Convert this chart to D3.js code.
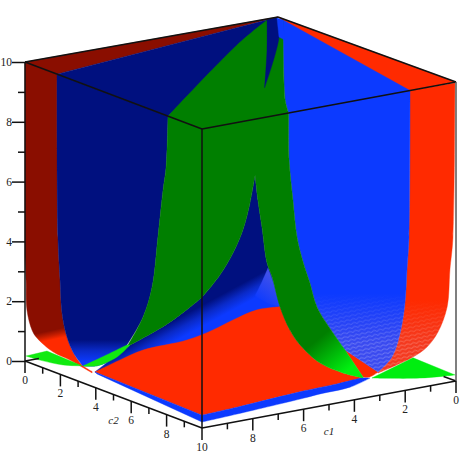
<!DOCTYPE html>
<html><head><meta charset="utf-8">
<script src="https://cdn.jsdelivr.net/npm/d3@7"></script>
<style>html,body{margin:0;padding:0;background:#fff}svg{display:block}</style></head>
<body><svg id="c" width="474" height="474"></svg>
<script>
// Every outline is a list of smooth runs of [c1, c2, z].
const tickValuesMajor=[0,2,4,6,8,10], tickValuesMinor=[1,3,5,7,9];
const redTopLeft=[[[10,0,10],[0,0,10]],[[0,0,10],[10,1.81,10]]];
const redTopRight=[[[0,0,10],[0,10,10]],[[0,10,10],[3,10,10]]];
const navyTop=[[[10,1.81,10],[0,0,10]],[[0,0,10],[10,8.08,10]]];
const redWallLeft=[
 [[10,0,10],[10,1.81,10]],
 [[10,1.81,10],[10,1.86,4.57],[10,1.98,3.15],[10,2.09,2.07],[10,2.37,1.33],[10,2.71,.91],[10,3.22,.59],[10,3.79,.5]],
 [[10,3.79,.45],[10,3.22,.52],[10,2.54,.60],[10,1.58,.66],[10,.68,.92],[10,.40,1.12],[10,.11,1.73],[10,.06,2.72],[10,0,3.5]]];
const navyWallLeft=[
 [[10,1.81,10],[10,8.08,10]],
 [[10,8.08,10],[10,7.97,8.27],[10,7.8,7.47],[10,7.51,5.83],[10,7.18,4.08],[10,6.67,2.97],[10,5.76,1.83]],
 [[10,5.76,1.83],[10,5.2,1.30],[10,4.07,.75],[10,3.28,.57]],
 [[10,3.22,.59],[10,2.71,.91],[10,2.37,1.33],[10,2.09,2.07],[10,1.98,3.15],[10,1.86,4.57],[10,1.81,10]]];
const navyCentre=[
 [[10,3.95,.52],[10,5.93,1.86]],
 [[10,5.93,1.86],[10,8.02,3.03],[10,9.32,3.89],[10,10,4.38],[9.29,10,5.01],[8.78,10,5.66],[8.39,10,6.37],[8.11,10,7.23],[7.91,10,8.13]],
 [[7.91,10,8.13],[7.8,10,7.28],[7.64,10,6.35],[7.44,10,5.12],[7.24,10,4.62],[6.93,10,3.57],[6.54,10,2.73]],
 [[6.54,10,2.73],[6.93,10,3.4],[7.83,10,3.4],[8.78,10,3.2],[10,9.15,2.5],[10,7.06,1.8],[10,5.37,1.1]]];
const periwinkleBand=[[[7.4,10,4.94],[7.17,10,4.34],[6.93,10,3.6]],[[6.93,10,3.6],[7.32,10,3.73],[7.91,10,4.09]],[[7.91,10,4.09],[7.64,10,4.51],[7.4,10,4.94]]];
const redFloor=[
 [[10,3.95,.52],[10,5.37,1.24],[10,6.67,1.86],[10,9.15,2.75],[9.57,10,3.21],[8.78,10,3.42],[7.83,10,3.61],[6.93,10,3.57]],
 [[6.93,10,3.57],[6.54,10,2.73],[6.14,10,2.17],[5.35,10,1.44],[4.45,10,.97],[3.66,10,.68]],
 [[3.66,10,.68],[4.69,10,.64],[5.98,10,.61],[8.62,10,.48],[10,10,.43]]];
const blueFloor=[
 [[10,3.95,.52],[10,10,.43]],
 [[10,10,.43],[8.62,10,.48],[5.98,10,.61],[4.69,10,.64],[3.66,10,.68],[3.39,10,.63]],
 [[3.39,10,.63],[4.17,10,.45],[5.35,10,.41],[5.98,10,.37],[8.62,10,.25],[10,10,.2]],
 [[10,10,.2],[10,4.07,.48]]];
const redSliver=[[[4.37,10,1.72],[3.07,10,.78]],[[3.07,10,.78],[3.39,10,.67],[3.66,10,.71]]];
const redWallRight=[
 [[1.81,10,10],[.04,10,9.97]],
 [[.04,10,9.97],[.12,10,4.83],[.24,10,3.75],[.35,10,2.53],[.71,10,1.75],[1.14,10,1.32],[1.69,10,1.07],[3.07,10,.75]],
 [[3.07,10,.78],[2.52,10,1.20],[2.2,10,1.95],[2.01,10,2.92],[1.93,10,4.02],[1.85,10,5.11],[1.81,10,10]]];
const greenRightEdge=[[3.66,10,.71],[4.37,10,1.72],[4.84,10,2.37],[5.47,10,3.33],[5.75,10,4.18],[6.02,10,4.93],[6.26,10,5.80],[6.42,10,7.06],[6.57,10,8.42],[6.59,10,10]];
const blueWallRight=[
 [[.085,.40,10],[1.81,10,10]],
 [[1.81,10,10],[1.85,10,5.11],[1.93,10,4.02],[2.01,10,2.92],[2.2,10,1.95],[2.52,10,1.20],[3.07,10,.78]],
 [[3.07,10,.78],[4.37,10,1.72]],
 greenRightEdge.slice(1),
 [[6.59,10,10],[5.83,8.73,10],[.085,.40,10]]];
const greenSheet=[
 [[.51,.11,10],[3.13,2.14,10],[10,8.08,10]],
 [[10,8.08,10],[10,7.97,8.27],[10,7.8,7.47],[10,7.51,5.83],[10,7.18,4.08],[10,6.67,2.97],[10,5.82,1.84]],
 [[10,5.93,1.86],[10,8.02,3.03],[10,9.32,3.89],[10,10,4.38],[9.29,10,5.01],[8.78,10,5.66],[8.39,10,6.37],[8.11,10,7.23],[7.91,10,8.13]],
 [[7.91,10,8.13],[7.8,10,7.28],[7.64,10,6.35],[7.44,10,5.12],[7.24,10,4.62],[6.93,10,3.57],[6.54,10,2.73],[6.14,10,2.17],[5.35,10,1.44],[4.45,10,.97],[3.66,10,.68]],
 greenRightEdge,
 [[6.59,10,10],[5.83,8.73,10],[.085,.40,10]]];
const wingLeft=[[[10,.06,.18],[10,1.24,.61]],[[10,1.24,.61],[10,3.22,.56]],[[10,3.22,.56],[10,2.15,.35],[10,.85,.22],[10,.06,.18]]];
const wingLens=[[[10,3.28,.57],[10,4.24,1.05],[10,5.76,1.83]],[[10,5.93,1.86],[10,5.2,1.30],[10,4.07,.75],[10,3.28,.57]]];
const wingRight=[[[3.31,10,.62],[1.69,10,1.04]],[[1.69,10,1.04],[.04,10,.21]],[[.04,10,.21],[1.42,10,.32],[3.31,10,.62]]];
const spikeNavy=[[[.51,.11,10],[.1,.085,10]],[[.1,.085,10],[1.43,2.09,10],[5.44,7.0,10]],[[5.44,7.0,10],[2.69,3.21,10],[.51,.11,10]]];
const spikeBlue=[[[.1,.085,10],[.085,.40,10]],[[.085,.40,10],[1.49,2.51,10]],[[1.49,2.51,10],[1.43,2.09,10]],[[1.43,2.09,10],[.1,.085,10]]];
// Colour ramps, anchored on two points of each surface.
const rampRedLeft={a:[10,2.15,1.59],b:[10,2.26,1.31],stops:["#8a0e00","#c01c00","#ff2a00"]};
const rampNavyLeft={a:[10,3.67,1.53],b:[10,3.67,.79],stops:["#00107f","#0a2ac8","#0c3aff"]};
const rampNavyCentre={a:[10,9.89,4.05],b:[9.72,10,3.47],stops:["#00107f","#0a2ac8","#0c3aff"]};
const rampPeriwinkle={a:[7.24,10,4.62],b:[7.91,10,4.0],stops:["#3f50ea","#0c3aff"]};
const rampBlueWall={a:[2.99,10,3.4],b:[2.99,10,1.7],stops:["#0c3aff","#3a4af0"]};
const rampRedWall={a:[1.02,10,2.87],b:[1.02,10,1.36],stops:["#ff2a00","#f43a20"]};
const rampGreen={a:[5.24,10,2.36],b:[4.17,10,1.09],stops:["#007f00","#00f010"]};

const c1X=d3.scaleLinear([0,10],[0,-253]), c2X=d3.scaleLinear([0,10],[0,178]);
const c1Y=d3.scaleLinear([0,10],[0,45]),  c2Y=d3.scaleLinear([0,10],[0,65]);
const skewX=d3.scaleLinear([0,100],[0,-1]), skewY=d3.scaleLinear([0,100],[0,2]);
const zY=d3.scaleLinear([0,10],[361,62]);
const ox=278, oy=-45;
const px=p=>ox+c1X(p[0])+c2X(p[1])+skewX(p[0]*p[1]);
const py=p=>oy+zY(p[2])+c1Y(p[0])+c2Y(p[1])+skewY(p[0]*p[1]);
const line=d3.line().x(px).y(py);
const smooth=d3.line().x(px).y(py).curve(d3.curveCatmullRom.alpha(.5));
const outline=runs=>runs.map((r,i)=>{const s=smooth(r);return i?"L"+s.slice(1):s;}).join("")+"Z";
const svg=d3.select("#c"), defs=svg.append("defs");

function ramp(id,r,stops){
  const g=defs.append("linearGradient").attr("id",id).attr("gradientUnits","userSpaceOnUse")
    .attr("x1",px(r.a)).attr("y1",py(r.a)).attr("x2",px(r.b)).attr("y2",py(r.b));
  const st=stops||r.stops;
  st.forEach((s,i)=>g.append("stop").attr("offset",i/(st.length-1)).attr("stop-color",s));
  return `url(#${id})`;
}
// facet chevrons that show on the lower curved walls
const pat=defs.append("pattern").attr("id","facets").attr("patternUnits","userSpaceOnUse").attr("width",6).attr("height",4).attr("patternTransform","rotate(-12)");
pat.append("path").attr("d","M0 2.5L3 .8L6 2.5").attr("fill","none").attr("stroke","#fff").attr("stroke-opacity",.28).attr("stroke-width",1);
function facetMask(id,r){
  const f=ramp(id+"g",r,["#000","#fff"]);
  defs.append("mask").attr("id",id).attr("maskUnits","userSpaceOnUse").attr("x",0).attr("y",0).attr("width",474).attr("height",474)
    .append("rect").attr("width",474).attr("height",474).attr("fill",f);
  return `url(#${id})`;
}
const paint=list=>svg.append("g").selectAll("path").data(list).join("path")
  .attr("d",d=>outline(d[0])).attr("fill",d=>d[1]).attr("stroke",d=>d[1]).attr("stroke-width",.4);
paint([
 [redTopLeft,"#8a0e00"],[redTopRight,"#ff2a00"],[navyTop,"#00107f"],
 [redWallLeft,ramp("g1",rampRedLeft)],[navyWallLeft,ramp("g2",rampNavyLeft)],
 [navyCentre,ramp("g3",rampNavyCentre)],[periwinkleBand,ramp("g7",rampPeriwinkle)],
 [redFloor,"#ff2a00"],[blueFloor,"#0c3aff"],[redSliver,"#ff2a00"],
 [redWallRight,ramp("g4",rampRedWall)],[blueWallRight,ramp("g5",rampBlueWall)]]);
const facetted=[[redWallRight,rampRedWall,"m1"],[blueWallRight,rampBlueWall,"m2"]];
svg.append("g").selectAll("path").data(facetted).join("path")
  .attr("d",d=>outline(d[0])).attr("fill","url(#facets)").attr("mask",d=>facetMask(d[2],d[1]));
paint([[greenSheet,ramp("g6",rampGreen)],[wingLeft,"#10ea10"],[wingLens,"#10ea10"],[wingRight,"#00ee10"],
 [spikeNavy,"#00107f"],[spikeBlue,"#0c3aff"]]);

// box edges
const edges=[
 [[10,0,10],[10,10,10]],[[10,10,10],[0,10,10]],[[10,0,10],[0,0,10]],[[0,0,10],[0,10,10]],
 [[10,10,10],[10,10,0]],[[10,0,10],[10,0,0]],
 [[10,0,0],[10,10,0]],[[10,10,0],[0,10,0]],[[10,0,0],[9.45,0,0]],[[0,10,0],[0,9.3,0]]];
const ink="#111", inkWidth=1.5;
svg.append("g").selectAll("path").data(edges).join("path").attr("d",d=>line(d)).attr("fill","none").attr("stroke",ink).attr("stroke-width",inkWidth);
svg.append("path").attr("d",line([[0,10,10],[0,10,0]])).attr("fill","none").attr("stroke","#555").attr("stroke-width",inkWidth);

const font='"Liberation Serif",serif';
// z axis
const zMaj=svg.append("g").attr("transform",`translate(${px([10,0,0])},0)`).call(d3.axisLeft(zY).tickValues(tickValuesMajor).tickSize(13).tickPadding(0).tickFormat(d3.format("d")));
const zMin=svg.append("g").attr("transform",`translate(${px([10,0,0])},0)`).call(d3.axisLeft(zY).tickValues(tickValuesMinor).tickSize(7).tickFormat(""));
[zMaj,zMin].forEach(g=>{g.select(".domain").remove();g.selectAll("line").attr("stroke",ink).attr("stroke-width",inkWidth);
  g.selectAll("text").attr("font-family",font).attr("font-size",11.5).attr("fill","#222");});

// floor axes
const floorTicks=[
 ...tickValuesMajor.map(v=>({p:[10,v,0],len:12,label:v,dy:20})),
 ...tickValuesMinor.map(v=>({p:[10,v,0],len:6})),
 ...tickValuesMajor.slice(0,5).map(v=>({p:[v,10,0],len:12,label:v,dy:20})),
 ...tickValuesMinor.map(v=>({p:[v,10,0],len:6}))];
svg.append("g").selectAll("line").data(floorTicks).join("line")
  .attr("x1",d=>px(d.p)).attr("x2",d=>px(d.p)).attr("y1",d=>py(d.p)).attr("y2",d=>py(d.p)+d.len)
  .attr("stroke",ink).attr("stroke-width",inkWidth);
svg.append("g").selectAll("text").data(floorTicks.filter(d=>d.label!==undefined)).join("text")
  .attr("x",d=>px(d.p)).attr("y",d=>py(d.p)+d.dy+3).attr("text-anchor","middle")
  .attr("font-family",font).attr("font-size",11.5).attr("fill","#222").text(d=>d.label);
const axisTitles=[{t:"c2",p:[10,5,0],dx:0,dy:29},{t:"c1",p:[5,10,0],dx:0,dy:30}];
svg.append("g").selectAll("text").data(axisTitles).join("text")
  .attr("x",d=>px(d.p)+d.dx).attr("y",d=>py(d.p)+d.dy).attr("text-anchor","middle")
  .attr("font-family",font).attr("font-size",11).attr("font-style","italic").attr("fill","#222").text(d=>d.t);
</script></body></html>
